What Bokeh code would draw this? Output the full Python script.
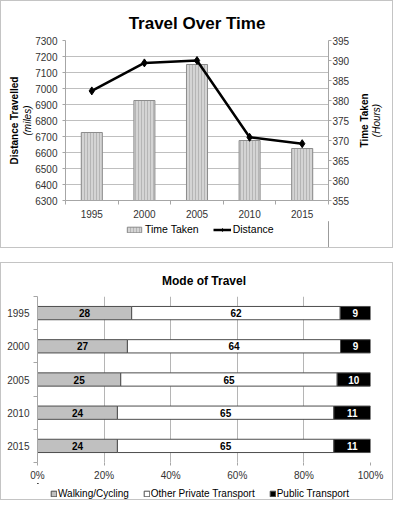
from math import pi

from bokeh.core.properties import value
from bokeh.embed import file_html
from bokeh.layouts import column, row
from bokeh.models import (ColumnDataSource, FixedTicker, Label, Legend, LegendItem,
                          LinearAxis, NumeralTickFormatter, Range1d, Title)
from bokeh.plotting import figure
from bokeh.resources import INLINE

FONT = "Liberation Sans"
BOX = {"border": "1px solid #c4c4c4"}

years = [1995, 2000, 2005, 2010, 2015]
distance = [6985, 7160, 7175, 6695, 6655]    # miles (left axis)
time_taken = [372, 380, 389, 370, 368]       # hours (right axis)
distance_ticks = [6300, 6400, 6500, 6600, 6700, 6800, 6900, 7000, 7100, 7200, 7300]
hours_ticks = [355, 360, 365, 370, 375, 380, 385, 390, 395]

modes = ["Walking/Cycling", "Other Private Transport", "Public Transport"]
walking = [28, 27, 25, 24, 24]
other_private = [62, 64, 65, 65, 65]
public = [9, 9, 10, 11, 11]
pct_ticks = [0, 0.2, 0.4, 0.6, 0.8, 1.0]

BAR_STYLE = dict(fill_color="#d4d4d4", line_color="#8c8c8c", hatch_pattern="vertical_line",
                 hatch_color="#b5b5b5", hatch_scale=3, hatch_weight=1)
LINE_STYLE = dict(line_color="black", line_width=2.5)
PT_STYLE = dict(marker="diamond", size=8, color="black")
MODE_COLORS = ["#c0c0c0", "white", "black"]
MODE_LINE = "#4d4d4d"


def style_axis(ax):
    ax.axis_line_color = "#a6a6a6"
    ax.major_tick_line_color = "#a6a6a6"
    ax.minor_tick_line_color = "#a6a6a6"
    ax.major_label_text_font = FONT
    ax.major_label_text_font_size = "10px"
    ax.major_label_text_color = "#333333"
    ax.major_tick_in = 0
    ax.minor_tick_in = 0


def add_title(p, side, text, size, style, standoff=0, **kw):
    p.add_layout(Title(text=text, align="center", text_font=FONT, text_font_size=size,
                       text_font_style=style, text_color="black", standoff=standoff, **kw), side)


def blank_figure(width, height):
    # a bare canvas (frame = whole figure) for legends and side titles
    p = figure(width=width, height=height, output_backend="svg", toolbar_location=None,
               x_range=Range1d(0, width), y_range=Range1d(0, height),
               x_axis_type=None, y_axis_type=None, min_border=0, title=None)
    p.outline_line_color = None
    return p


def make_legend(items, location):
    legend = Legend(items=items, location=location, orientation="horizontal")
    legend.border_line_color = None
    legend.background_fill_alpha = 0
    legend.padding = 0
    legend.margin = 0
    legend.label_text_font = FONT
    legend.label_text_color = "black"
    return legend


def make_travel_chart():
    half = (years[1] - years[0]) / 2
    bounds = [y - half for y in years] + [years[-1] + half]

    p = figure(width=355, height=220, output_backend="svg", toolbar_location=None, title=None,
               x_range=Range1d(bounds[0], bounds[-1]),
               y_range=Range1d(distance_ticks[0], distance_ticks[-1]),
               min_border_left=64, min_border_right=28, min_border_top=39, min_border_bottom=21)
    p.extra_y_ranges = {"hours": Range1d(hours_ticks[0], hours_ticks[-1])}
    p.outline_line_color = None

    add_title(p, "above", "Travel Over Time", "17px", "bold", standoff=16)
    add_title(p, "left", "(miles)", "10px", "italic")
    add_title(p, "left", "Distance Travelled", "10px", "bold")

    yt = FixedTicker(ticks=distance_ticks)
    p.yaxis.ticker = yt
    p.ygrid.ticker = yt
    p.ygrid.grid_line_color = "#bfbfbf"
    p.xgrid.grid_line_color = None
    p.xaxis.ticker = FixedTicker(ticks=years, minor_ticks=bounds)
    for ax in [p.xaxis[0], p.yaxis[0]]:
        style_axis(ax)
    p.xaxis.major_tick_out = 0
    p.xaxis.minor_tick_out = 4
    p.xaxis.major_label_standoff = 5
    p.yaxis.major_tick_out = 3
    p.yaxis.major_label_standoff = 5
    p.yaxis.minor_tick_line_color = None

    right = LinearAxis(y_range_name="hours", ticker=FixedTicker(ticks=hours_ticks))
    style_axis(right)
    right.major_tick_out = 3
    right.major_label_standoff = 1
    right.minor_tick_line_color = None
    p.add_layout(right, "right")

    p.vbar(x=years, top=time_taken, bottom=hours_ticks[0], width=2,
           y_range_name="hours", **BAR_STYLE)
    p.line(years, distance, **LINE_STYLE)
    p.scatter(years, distance, **PT_STYLE)

    # legend strip under the chart; its renderers fall outside this canvas,
    # they only lend their style to the legend glyphs
    leg = blank_figure(355, 26)
    b = leg.vbar(x=years, top=time_taken, width=1, **BAR_STYLE)
    ln = leg.line(years, distance, **LINE_STYLE)
    pt = leg.scatter(years, distance, **PT_STYLE)
    legend = make_legend([LegendItem(label="Time Taken", renderers=[b]),
                          LegendItem(label="Distance", renderers=[ln, pt])], (60, 12))
    legend.spacing = 14
    legend.glyph_width = 18
    legend.glyph_height = 7
    legend.label_height = 12
    legend.label_standoff = 2
    legend.label_text_font_size = "10.5px"
    leg.add_layout(legend)

    # right-hand axis title, reading upwards like the left one
    side = blank_figure(36, 246)
    for x, text, style in [(7.5, "Time Taken", "bold"), (19.5, "(Hours)", "italic")]:
        side.add_layout(Label(x=x, y=127, text=text, angle=pi / 2, text_align="center",
                              text_baseline="middle", text_font=FONT, text_font_size="10px",
                              text_font_style=style, text_color="black"))

    box = row(column(p, leg, spacing=0), side, spacing=0)
    box.styles = BOX
    return box


def make_mode_chart():
    half = (years[1] - years[0]) / 2
    bounds = [y - half for y in years] + [years[-1] + half]

    totals = [w + o + t for w, o, t in zip(walking, other_private, public)]
    shares = {
        "walk": [w / s for w, s in zip(walking, totals)],
        "other": [o / s for o, s in zip(other_private, totals)],
        "public": [t / s for t, s in zip(public, totals)],
    }
    src = ColumnDataSource(dict(year=years, **shares))

    p = figure(width=391, height=220, output_backend="svg", toolbar_location=None, title=None,
               x_range=Range1d(0, 1), y_range=Range1d(bounds[-1], bounds[0]),
               min_border_left=36, min_border_right=22, min_border_top=33, min_border_bottom=20)
    p.outline_line_color = None
    add_title(p, "above", "Mode of Travel", "12px", "bold", standoff=17, offset=-6)

    xt = FixedTicker(ticks=pct_ticks)
    p.xaxis.ticker = xt
    p.xgrid.ticker = xt
    p.xaxis.formatter = NumeralTickFormatter(format="0%")
    p.xgrid.grid_line_color = "#b5b5b5"
    p.ygrid.grid_line_color = None
    p.yaxis.ticker = FixedTicker(ticks=years, minor_ticks=bounds)
    for ax in [p.xaxis[0], p.yaxis[0]]:
        style_axis(ax)
    p.xaxis.axis_line_color = None
    p.xaxis.major_tick_out = 3
    p.xaxis.minor_tick_line_color = None
    p.xaxis.major_label_standoff = 4
    p.yaxis.major_tick_out = 0
    p.yaxis.minor_tick_out = 4
    p.yaxis.major_label_standoff = 4

    p.hbar_stack(["walk", "other", "public"], y="year", height=2, source=src,
                 color=MODE_COLORS, line_color=MODE_LINE, line_width=1)

    # value labels in the middle of each segment
    lx, ly, lt, lc = [], [], [], []
    for i, yr in enumerate(years):
        left = 0
        for key, raw, col in [("walk", walking, "black"), ("other", other_private, "black"),
                              ("public", public, "white")]:
            w = shares[key][i]
            lx.append(left + w / 2)
            ly.append(yr)
            lt.append(str(raw[i]))
            lc.append(col)
            left += w
    p.text(x="x", y="y", text="t", text_color="c",
           source=ColumnDataSource(dict(x=lx, y=ly, t=lt, c=lc)),
           text_align="center", text_baseline="middle", text_font=value(FONT),
           text_font_size="10px", text_font_style="bold")

    leg = blank_figure(391, 16)
    items = []
    for m, c, key in zip(modes, MODE_COLORS, ["walk", "other", "public"]):
        r = leg.hbar(y=years, right=shares[key], height=1, fill_color=c, line_color=MODE_LINE)
        items.append(LegendItem(label=m, renderers=[r]))
    legend = make_legend(items, (13, 0))
    legend.spacing = 14
    legend.glyph_width = 7
    legend.glyph_height = 7
    legend.label_height = 10
    legend.label_standoff = 1
    legend.label_text_font_size = "10px"
    leg.add_layout(legend)

    box = column(p, leg, spacing=0)
    box.styles = BOX
    return box


layout = column(make_travel_chart(), make_mode_chart(), spacing=14)
open("out.html", "w").write(file_html(layout, INLINE))
